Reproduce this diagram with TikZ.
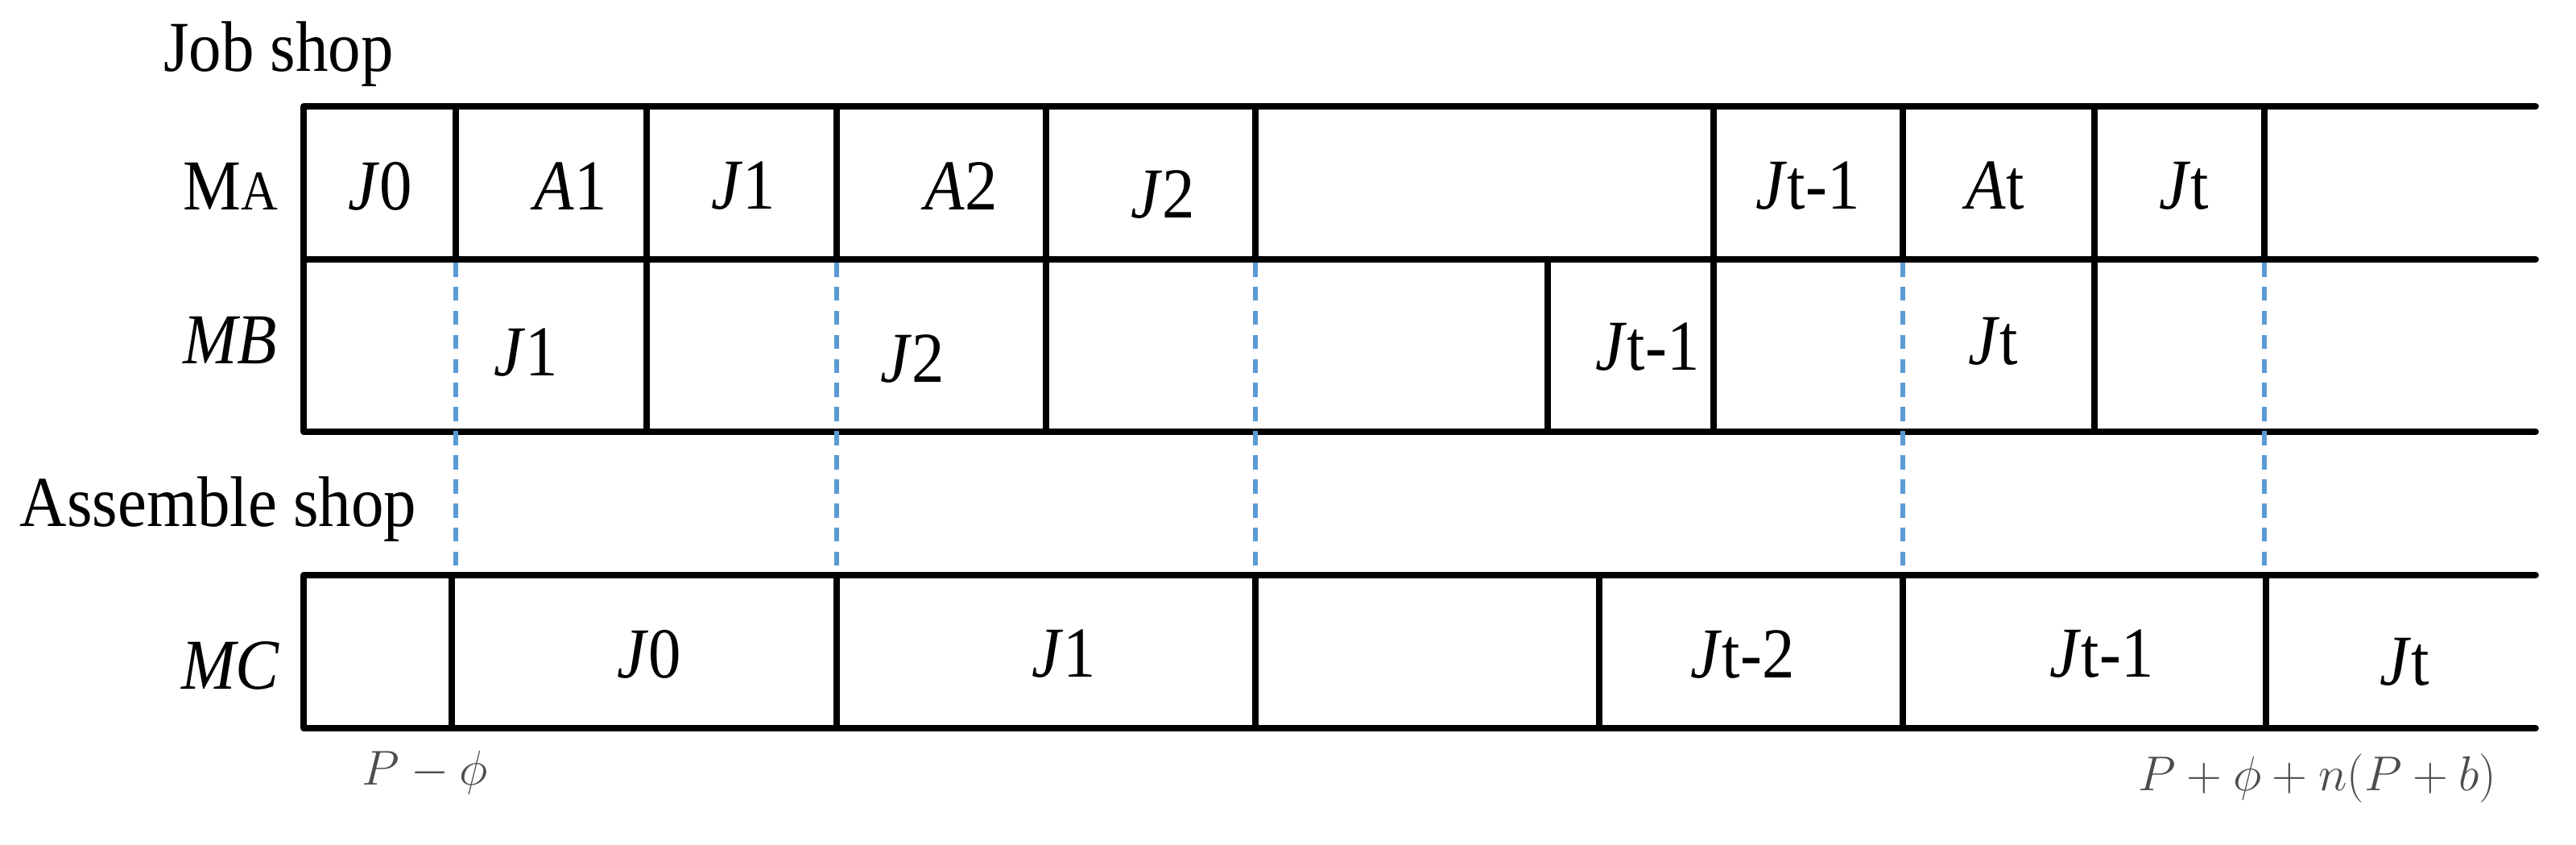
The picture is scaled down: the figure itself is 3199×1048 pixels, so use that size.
\documentclass[tikz,border=0pt]{standalone}
\usepackage{fontspec}
\setmainfont{Liberation Serif}
\begin{document}
\begin{tikzpicture}[x=0.01cm,y=-0.01cm,
  grid/.style={line width=2.2pt,black},
  sep/.style={line width=1.9pt,color={rgb,255:red,91;green,155;blue,213},dash pattern=on 5pt off 3.5pt},
  lab/.style={font=\fontsize{23}{23}\selectfont,inner sep=0pt,yscale=1.1},
  small/.style={font=\fontsize{18}{18}\selectfont,inner sep=0pt,text=black!70}]
\useasboundingbox (0,0) rectangle (3199,1048);
% horizontal lines
\foreach \y in {132,322,536,714,904} \draw[grid,line cap=round] (377,\y) -- (3149,\y);
\draw[grid] (377,132) -- (377,536);
\draw[grid] (377,714) -- (377,904);
% MA verticals
\foreach \x in {566,803,1039,1299,1559,2128,2363,2601,2812} \draw[grid] (\x,132) -- (\x,322);
% MB verticals
\foreach \x in {803,1299,1922,2128,2601} \draw[grid] (\x,322) -- (\x,536);
% MC verticals
\foreach \x in {561,1039,1559,1986,2363,2814} \draw[grid] (\x,714) -- (\x,904);
% dashed separators
\foreach \x in {566,1039,1559,2363,2812} \draw[sep] (\x,326) -- (\x,710);
% labels
\node[lab] (js) at (346,67) {Job shop};
\node[lab] (as) at (271,632) {Assemble shop};
\node[lab] (ma) at (286,231) {M{\fontsize{18}{18}\selectfont A}};
\node[lab] (mb) at (286,422) {\itshape MB};
\node[lab] (mc) at (286,826) {\itshape MC};
\node[lab] (a1) at (472,231) {\textit{J}0};
\node[lab] (a2) at (709,231) {\textit{A}1};
\node[lab] (a3) at (923,231) {\textit{J}1};
\node[lab] (a4) at (1194,231) {\textit{A}2};
\node[lab] (a5) at (1444,241) {\textit{J}2};
\node[lab] (a6) at (2245,231) {\textit{J}t-1};
\node[lab] (a7) at (2478,231) {\textit{A}t};
\node[lab] (a8) at (2712,231) {\textit{J}t};
\node[lab] (b1) at (653,438) {\textit{J}1};
\node[lab] (b2) at (1133,445) {\textit{J}2};
\node[lab] (b3) at (2046,431) {\textit{J}t-1};
\node[lab] (b4) at (2475,424) {\textit{J}t};
\node[lab] (c1) at (806,812) {\textit{J}0};
\node[lab] (c2) at (1321,812) {\textit{J}1};
\node[lab] (c3) at (2164,812) {\textit{J}t-2};
\node[lab] (c4) at (2610,812) {\textit{J}t-1};
\node[lab] (c5) at (2986,822) {\textit{J}t};
\node[small] (p1) at (528,959) {$P-\phi$};
\node[small] (p2) at (2878,966) {$P+\phi+n(P+b)$};
\end{tikzpicture}
\end{document}
